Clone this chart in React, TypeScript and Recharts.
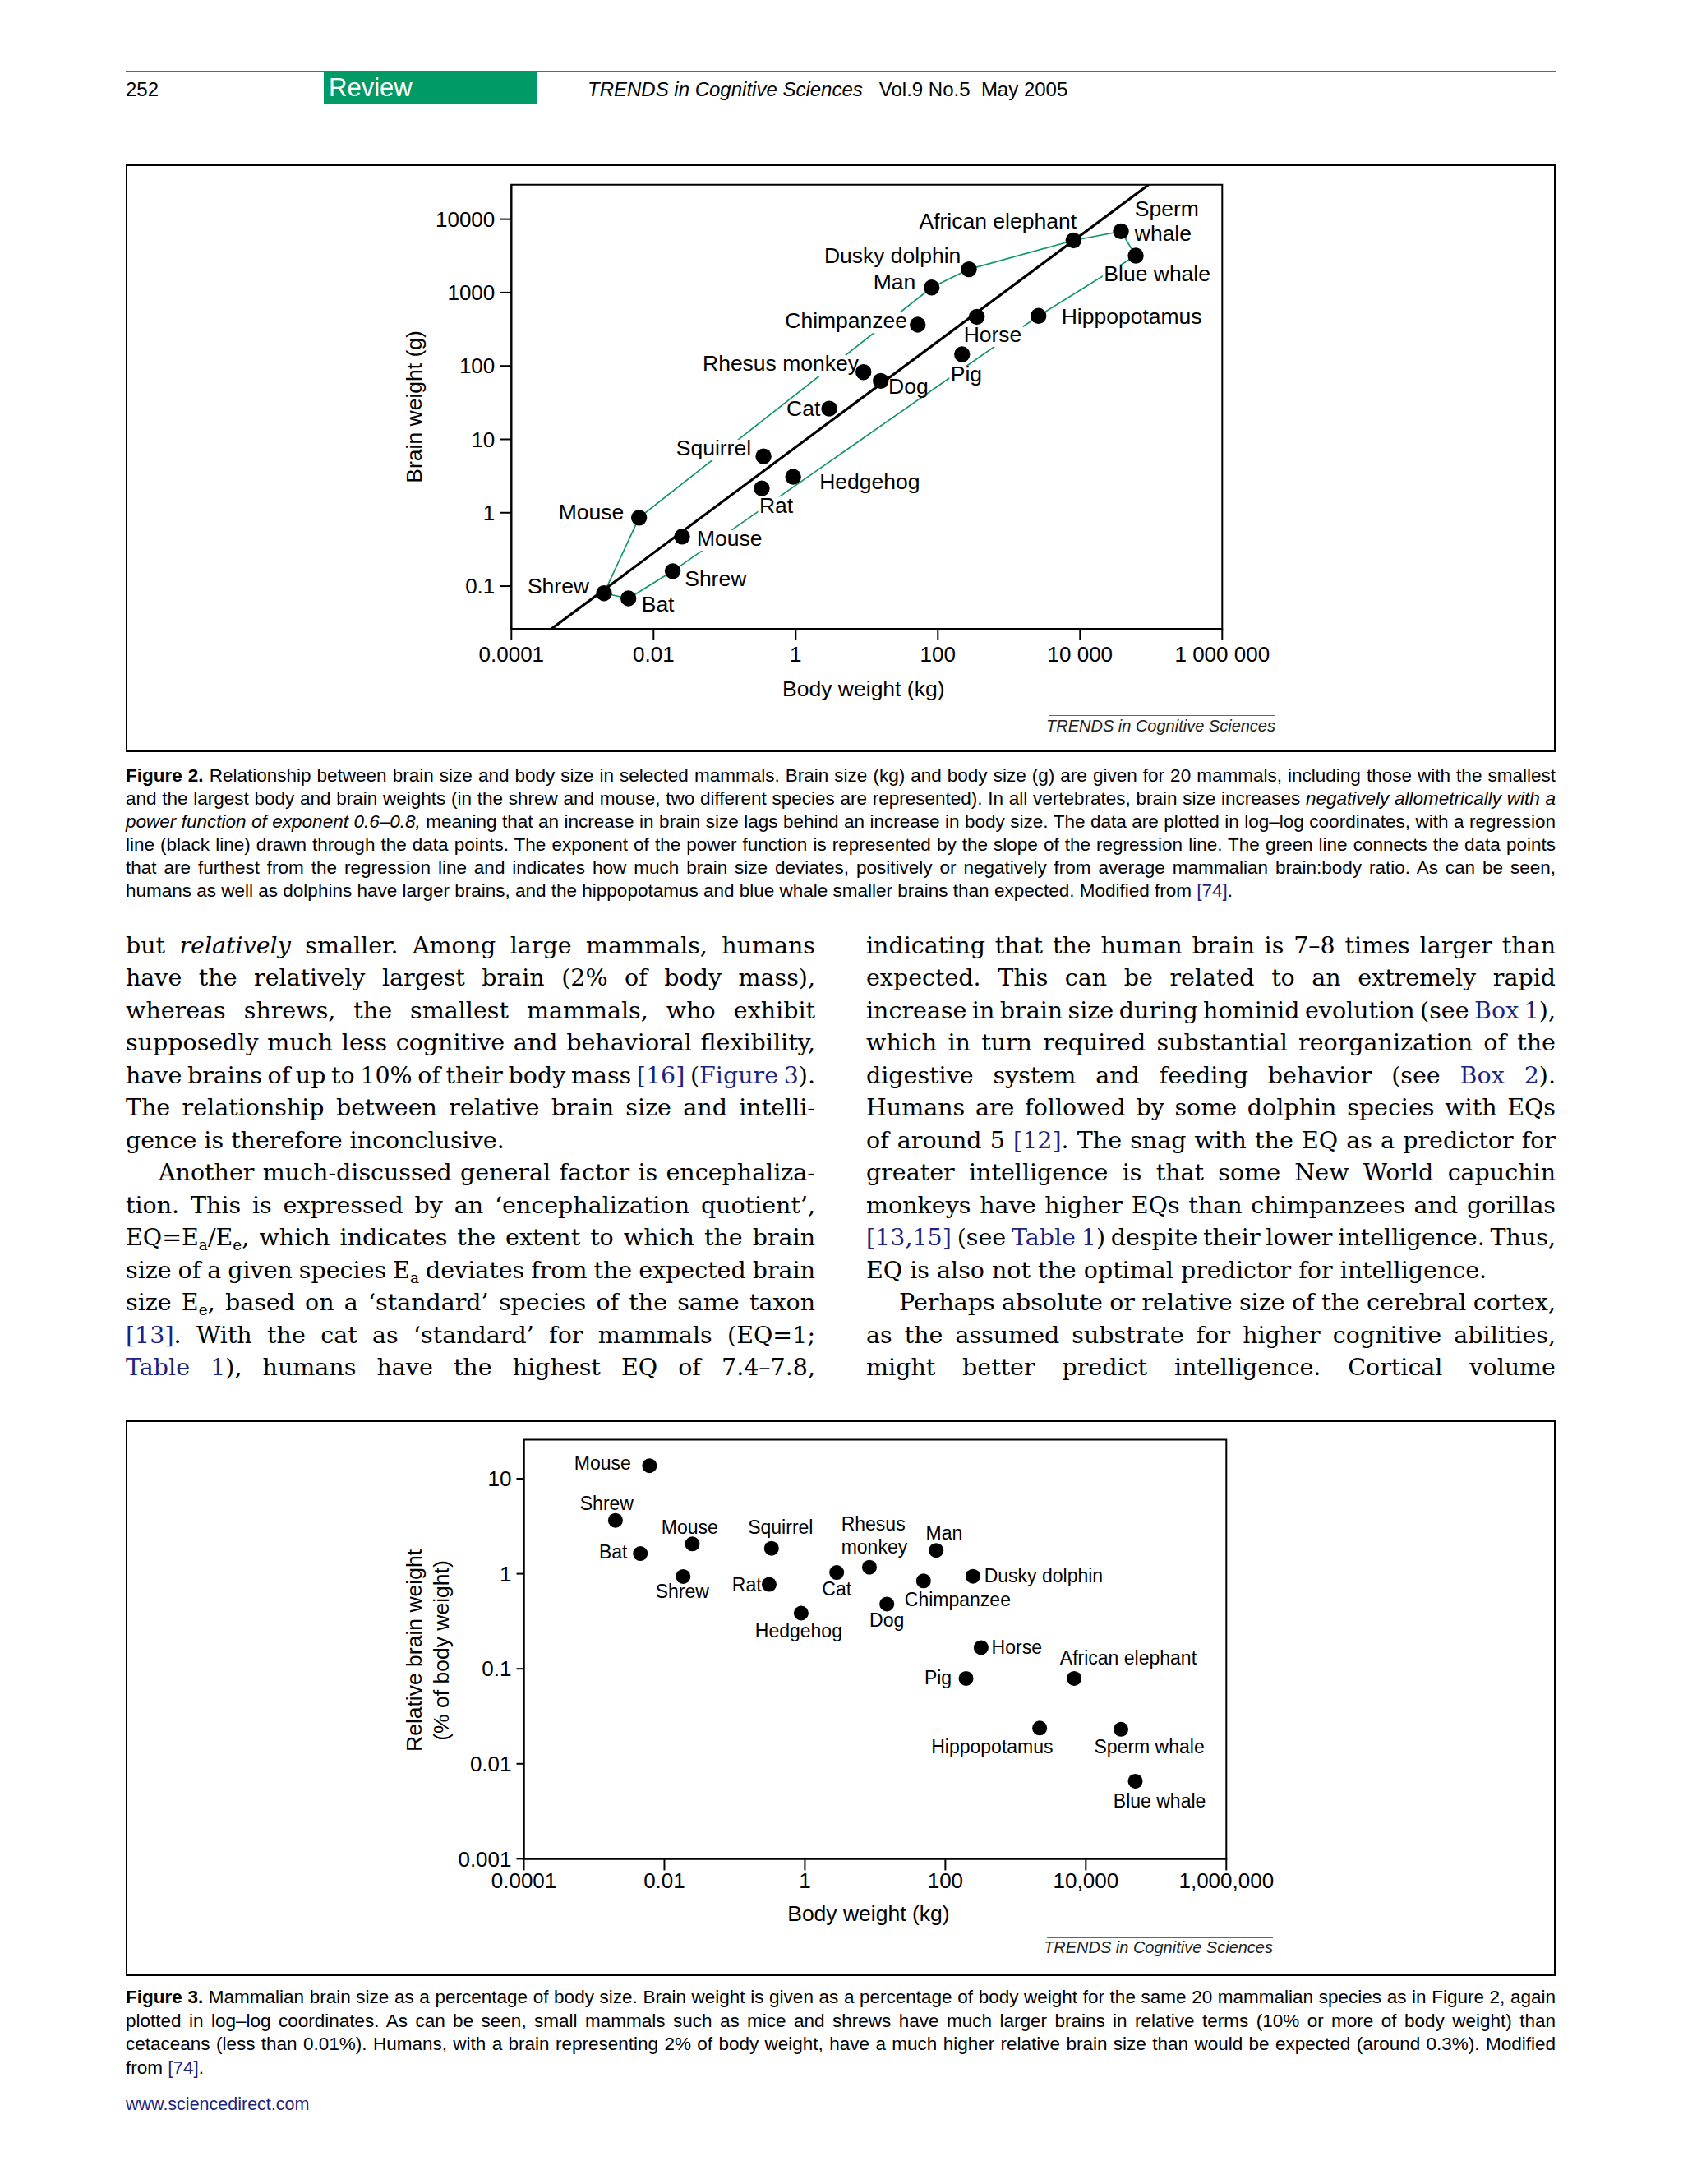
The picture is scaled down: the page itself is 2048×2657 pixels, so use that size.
import React from 'react';
import { ScatterChart, Scatter, XAxis, YAxis, ReferenceArea, Label } from 'recharts';

const SANS = '"Liberation Sans", Arial, Helvetica, sans-serif';
const SERIF = '"DejaVu Serif", serif';
const GREEN = '#12966c';
const HEADER_GREEN = '#009a66';
const LINK = '#1c2480';

// ---------------- Figure 2 data (brain weight vs body weight) ----------------
const speciesIds = ['shrewA', 'bat', 'shrewB', 'mouseB', 'mouseA', 'squirrel', 'rat', 'hedgehog', 'cat', 'rhesus', 'dog', 'chimp', 'man', 'dolphin', 'horse', 'pig', 'hippo', 'elephant', 'sperm', 'blue'];
const fig2Labels = ['Shrew', 'Bat', 'Shrew', 'Mouse', 'Mouse', 'Squirrel', 'Rat', 'Hedgehog', 'Cat', 'Rhesus monkey', 'Dog', 'Chimpanzee', 'Man', 'Dusky dolphin', 'Horse', 'Pig', 'Hippopotamus', 'African elephant', 'Sperm\nwhale', 'Blue whale'];
const fig2BodyKg = [0.00201, 0.00443, 0.0186, 0.0252, 0.00625, 0.352, 0.333, 0.92, 2.96, 8.97, 15.7, 52, 81.7, 273, 353, 219, 2600, 8090, 37600, 60700];
const fig2BrainG = [0.08, 0.068, 0.16, 0.473, 0.855, 5.87, 2.15, 3.09, 26.2, 82.4, 62.5, 365, 1170, 2075, 467, 144, 481, 5130, 6830, 3180];
const fig2HullOrder = ['shrewA', 'mouseA', 'man', 'dolphin', 'elephant', 'sperm', 'blue', 'hippo', 'shrewB', 'bat', 'shrewA'];
const fig2RegressionBody = [0.000366, 92000];
const fig2RegressionBrain = [0.0262, 29400];
const fig2XDomain = [1e-4, 1e6];
const fig2YDomain = [0.0262, 29400];
const fig2XTicks = [1e-4, 1e-2, 1, 100, 1e4, 1e6];
const fig2XTickLabels = ['0.0001', '0.01', '1', '100', '10 000', '1 000 000'];
const fig2YTicks = [0.1, 1, 10, 100, 1000, 10000];
const fig2YTickLabels = ['0.1', '1', '10', '100', '1000', '10000'];

// ---------------- Figure 3 data (relative brain weight vs body weight) ----------------
const fig3Labels = ['Shrew', 'Bat', 'Shrew', 'Mouse', 'Mouse', 'Squirrel', 'Rat', 'Hedgehog', 'Cat', 'Rhesus\nmonkey', 'Dog', 'Chimpanzee', 'Man', 'Dusky dolphin', 'Horse', 'Pig', 'Hippopotamus', 'African elephant', 'Sperm whale', 'Blue whale'];
const fig3BodyKg = [0.00201, 0.00455, 0.0185, 0.025, 0.00614, 0.335, 0.31, 0.885, 2.84, 8.3, 14.7, 48.9, 74, 247, 323, 197, 2200, 6820, 31600, 50600];
const fig3RelPct = [3.64, 1.63, 0.935, 2.06, 13.7, 1.85, 0.772, 0.385, 1.03, 1.17, 0.48, 0.84, 1.76, 0.94, 0.167, 0.0792, 0.0238, 0.0792, 0.0231, 0.00656];
const fig3XDomain = [1e-4, 1e6];
const fig3YDomain = [0.001, 25.8];
const fig3XTicks = [1e-4, 1e-2, 1, 100, 1e4, 1e6];
const fig3XTickLabels = ['0.0001', '0.01', '1', '100', '10,000', '1,000,000'];
const fig3YTicks = [0.001, 0.01, 0.1, 1, 10];
const fig3YTickLabels = ['0.001', '0.01', '0.1', '1', '10'];

// ---------------- text content ----------------
const fig2Caption = [
  '#Figure 2.# Relationship between brain size and body size in selected mammals. Brain size (kg) and body size (g) are given for 20 mammals, including those with the smallest',
  'and the largest body and brain weights (in the shrew and mouse, two different species are represented). In all vertebrates, brain size increases *negatively allometrically with a*',
  '*power function of exponent 0.6–0.8,* meaning that an increase in brain size lags behind an increase in body size. The data are plotted in log–log coordinates, with a regression',
  'line (black line) drawn through the data points. The exponent of the power function is represented by the slope of the regression line. The green line connects the data points',
  'that are furthest from the regression line and indicates how much brain size deviates, positively or negatively from average mammalian brain:body ratio. As can be seen,',
  'humans as well as dolphins have larger brains, and the hippopotamus and blue whale smaller brains than expected. Modified from {[74]}.|',
];
const fig3Caption = [
  '#Figure 3.# Mammalian brain size as a percentage of body size. Brain weight is given as a percentage of body weight for the same 20 mammalian species as in Figure 2, again',
  'plotted in log–log coordinates. As can be seen, small mammals such as mice and shrews have much larger brains in relative terms (10% or more of body weight) than',
  'cetaceans (less than 0.01%). Humans, with a brain representing 2% of body weight, have a much higher relative brain size than would be expected (around 0.3%). Modified',
  'from {[74]}.|',
];
const bodyLeft = [
  'but *relatively* smaller. Among large mammals, humans',
  'have the relatively largest brain (2% of body mass),',
  'whereas shrews, the smallest mammals, who exhibit',
  'supposedly much less cognitive and behavioral flexibility,',
  'have brains of up to 10% of their body mass {[16]} ({Figure 3}).',
  'The relationship between relative brain size and intelli-',
  'gence is therefore inconclusive.|',
  '>Another much-discussed general factor is encephaliza-',
  'tion. This is expressed by an ‘encephalization quotient’,',
  'EQ=E~a~/E~e~, which indicates the extent to which the brain',
  'size of a given species E~a~ deviates from the expected brain',
  'size E~e~, based on a ‘standard’ species of the same taxon',
  '{[13]}. With the cat as ‘standard’ for mammals (EQ=1;',
  '{Table 1}), humans have the highest EQ of 7.4–7.8,',
];
const bodyRight = [
  'indicating that the human brain is 7–8 times larger than',
  'expected. This can be related to an extremely rapid',
  'increase in brain size during hominid evolution (see {Box 1}),',
  'which in turn required substantial reorganization of the',
  'digestive system and feeding behavior (see {Box 2}).',
  'Humans are followed by some dolphin species with EQs',
  'of around 5 {[12]}. The snag with the EQ as a predictor for',
  'greater intelligence is that some New World capuchin',
  'monkeys have higher EQs than chimpanzees and gorillas',
  '{[13,15]} (see {Table 1}) despite their lower intelligence. Thus,',
  'EQ is also not the optimal predictor for intelligence.|',
  '>Perhaps absolute or relative size of the cerebral cortex,',
  'as the assumed substrate for higher cognitive abilities,',
  'might better predict intelligence. Cortical volume',
];

// ---------------- label placement (layout only) ----------------
type Place = { anchor: 'start' | 'end' | 'middle'; dx: number; dy: number; knock?: boolean };
const fig2Place: Record<string, Place> = {
  shrewA: { anchor: 'end', dx: -18, dy: 0 },
  bat: { anchor: 'start', dx: 16, dy: 15.5 },
  shrewB: { anchor: 'start', dx: 14.6, dy: 18 },
  mouseB: { anchor: 'start', dx: 18, dy: 11.5 },
  mouseA: { anchor: 'end', dx: -18.4, dy: 2 },
  squirrel: { anchor: 'end', dx: -15, dy: -1 },
  rat: { anchor: 'start', dx: -3, dy: 29.6 },
  hedgehog: { anchor: 'start', dx: 32, dy: 14.8 },
  cat: { anchor: 'end', dx: -10.7, dy: 9, knock: false },
  rhesus: { anchor: 'end', dx: -5.7, dy: -1.5 },
  dog: { anchor: 'start', dx: 9.3, dy: 16, knock: false },
  chimp: { anchor: 'end', dx: -12.7, dy: 4.4 },
  man: { anchor: 'end', dx: -19.4, dy: 2 },
  dolphin: { anchor: 'end', dx: -9.7, dy: -7.7 },
  horse: { anchor: 'start', dx: -16, dy: 30.6 },
  pig: { anchor: 'start', dx: -14, dy: 33.3 },
  hippo: { anchor: 'start', dx: 28, dy: 9.6 },
  elephant: { anchor: 'end', dx: 3.7, dy: -14.1 },
  sperm: { anchor: 'start', dx: 16.7, dy: -18.9 },
  blue: { anchor: 'start', dx: -38.7, dy: 31.4 },
};
const fig3Place: Record<string, Place> = {
  mouseA: { anchor: 'end', dx: -22.5, dy: 5.3 },
  shrewA: { anchor: 'middle', dx: -10.5, dy: -13.2 },
  bat: { anchor: 'end', dx: -15.7, dy: 6.4 },
  mouseB: { anchor: 'middle', dx: -3.2, dy: -12.5 },
  shrewB: { anchor: 'middle', dx: -1, dy: 25.7 },
  squirrel: { anchor: 'middle', dx: 11, dy: -17.9 },
  rat: { anchor: 'end', dx: -9.3, dy: 8.9 },
  hedgehog: { anchor: 'middle', dx: -3, dy: 29.3 },
  cat: { anchor: 'middle', dx: 0, dy: 28.1 },
  rhesus: { anchor: 'start', dx: -34.3, dy: -44.3 },
  dog: { anchor: 'middle', dx: 0, dy: 27.2 },
  chimp: { anchor: 'start', dx: -23, dy: 30.7 },
  man: { anchor: 'start', dx: -12.6, dy: -13.2 },
  dolphin: { anchor: 'start', dx: 13.7, dy: 7.5 },
  horse: { anchor: 'start', dx: 12.7, dy: 7.1 },
  pig: { anchor: 'end', dx: -17.4, dy: 7.1 },
  elephant: { anchor: 'start', dx: -17.3, dy: -17.2 },
  hippo: { anchor: 'end', dx: 16.4, dy: 30.8 },
  sperm: { anchor: 'start', dx: -32.6, dy: 29.3 },
  blue: { anchor: 'start', dx: -26.7, dy: 32.1 },
};

// ---------------- helpers ----------------
let ctx: CanvasRenderingContext2D | null = null;
function measure(text: string, font: string): number {
  if (!ctx && typeof document !== 'undefined') ctx = document.createElement('canvas').getContext('2d');
  if (!ctx) return text.length * 10;
  ctx.font = font;
  return ctx.measureText(text).width;
}

type Seg = { t: string; i?: boolean; b?: boolean; link?: boolean; sub?: boolean };
function parse(s: string): Seg[] {
  const out: Seg[] = [];
  const re = /(\*[^*]+\*|#[^#]+#|\{[^}]+\}|~[^~]+~)/g;
  let last = 0;
  let m: RegExpExecArray | null;
  while ((m = re.exec(s))) {
    if (m.index > last) out.push({ t: s.slice(last, m.index) });
    const tok = m[0];
    const inner = tok.slice(1, -1);
    if (tok[0] === '*') out.push({ t: inner, i: true });
    else if (tok[0] === '#') out.push({ t: inner, b: true });
    else if (tok[0] === '{') out.push({ t: inner, link: true });
    else out.push({ t: inner, sub: true });
    last = m.index + tok.length;
  }
  if (last < s.length) out.push({ t: s.slice(last) });
  return out;
}

function JustLine({ raw, x, baseline, width, size, family, indent = 0 }: { raw: string; x: number; baseline: number; width: number; size: number; family: string; indent?: number }) {
  let text = raw;
  let last = false;
  let ind = 0;
  if (text.endsWith('|')) { last = true; text = text.slice(0, -1); }
  if (text.startsWith('>')) { ind = indent; text = text.slice(1); }
  const segs = parse(text);
  const fontOf = (s: Seg) => `${s.i ? 'italic ' : ''}${s.b ? 'bold ' : ''}${s.sub ? size * 0.65 : size}px ${family}`;
  const natural = segs.reduce((a, s) => a + measure(s.t, fontOf(s)), 0);
  const avail = width - ind;
  const spaces = (text.match(/ /g) || []).length;
  let wordSpacing = 0;
  if (natural > avail - 2 && spaces > 0) wordSpacing = (avail - 2 - natural) / spaces;
  return (
    <div
      style={{
        position: 'absolute', left: x, top: baseline - 0.846 * size, width, height: size,
        lineHeight: `${size}px`, fontSize: size, fontFamily: family, whiteSpace: 'nowrap',
        textAlign: last ? 'left' : 'justify', textAlignLast: last ? 'left' : 'justify',
        textIndent: ind, wordSpacing, color: '#000',
      }}
    >
      {segs.map((s, k) => {
        if (s.sub) return <span key={k} style={{ fontSize: size * 0.65, position: 'relative', top: size * 0.22 }}>{s.t}</span>;
        return (
          <span key={k} style={{ fontStyle: s.i ? 'italic' : 'normal', fontWeight: s.b ? 'bold' : 'normal', color: s.link ? LINK : '#000' }}>{s.t}</span>
        );
      })}
    </div>
  );
}

function makeLabelShape(place: Record<string, Place>, fontSize: number, lineGap: number, knockout: boolean) {
  return (props: any) => {
    const { cx, cy, payload } = props;
    const p = place[payload.id];
    if (!p || cx == null || cy == null) return <g />;
    const lines = String(payload.label).split('\n');
    const x = cx + p.dx;
    const font = `${fontSize}px ${SANS}`;
    return (
      <g>
        {knockout && p.knock !== false && lines.map((ln, i) => {
          const w = measure(ln, font);
          const bx = p.anchor === 'end' ? x - w : p.anchor === 'middle' ? x - w / 2 : x;
          const by = cy + p.dy + i * lineGap;
          return <rect key={'r' + i} x={bx - 1.5} y={by - 0.73 * fontSize} width={w + 3} height={0.95 * fontSize} fill="#fff" />;
        })}
        {lines.map((ln, i) => (
          <text key={i} x={x} y={cy + p.dy + i * lineGap} textAnchor={p.anchor} fontSize={fontSize} fontFamily={SANS} fill="#000">{ln}</text>
        ))}
      </g>
    );
  };
}

const emptyShape = () => <g />;

// ---------------- Figure 2 chart ----------------
function Figure2Chart() {
  const points = speciesIds.map((id, i) => ({ id, label: fig2Labels[i], x: fig2BodyKg[i], y: fig2BrainG[i] }));
  const hull = fig2HullOrder.map((id) => { const p = points.find((q) => q.id === id)!; return { x: p.x, y: p.y }; });
  const regression = fig2RegressionBody.map((b, i) => ({ x: b, y: fig2RegressionBrain[i] }));
  const axisStyle = { stroke: '#000', strokeWidth: 2 };
  const tickStyle = { fontSize: 26, fill: '#000', fontFamily: SANS };
  return (
    <ScatterChart width={2048} height={930} margin={{ top: 224.8, right: 560.7, bottom: 0, left: 0 }}>
      <XAxis type="number" dataKey="x" scale="log" domain={fig2XDomain} allowDataOverflow ticks={fig2XTicks} interval={0}
        tickFormatter={(v: number) => fig2XTickLabels[fig2XTicks.indexOf(v)] ?? ''} height={165} tickSize={14} tickMargin={7.5}
        axisLine={axisStyle} tickLine={axisStyle} tick={tickStyle}>
        <Label content={(props: any) => {
          const vb = props.viewBox || { x: 622.3, y: 765, width: 865, height: 165 };
          return <text x={vb.x + vb.width / 2 - 4} y={vb.y + 82} textAnchor="middle" fontSize={26.5} fontFamily={SANS} fill="#000">Body weight (kg)</text>;
        }} />
      </XAxis>
      <YAxis type="number" dataKey="y" scale="log" domain={fig2YDomain} allowDataOverflow ticks={fig2YTicks} interval={0}
        tickFormatter={(v: number) => fig2YTickLabels[fig2YTicks.indexOf(v)] ?? ''} width={622.3} tickSize={14} tickMargin={6}
        axisLine={axisStyle} tickLine={axisStyle} tick={tickStyle}>
        <Label content={(props: any) => {
          const vb = props.viewBox || { x: 0, y: 224.8, width: 622.3, height: 540.2 };
          const x = vb.x + vb.width - 108.8;
          const y = vb.y + vb.height / 2;
          return <text x={x} y={y} transform={`rotate(-90 ${x} ${y})`} textAnchor="middle" fontSize={26.5} fontFamily={SANS} fill="#000">Brain weight (g)</text>;
        }} />
      </YAxis>
      <Scatter data={hull} line={{ stroke: GREEN, strokeWidth: 1.7 }} shape={emptyShape} isAnimationActive={false} />
      <Scatter data={points} shape={makeLabelShape(fig2Place, 26.5, 30.7, true)} isAnimationActive={false} />
      <Scatter data={regression} line={{ stroke: '#000', strokeWidth: 3.2 }} shape={emptyShape} isAnimationActive={false} />
      <Scatter data={points} shape={(p: any) => <circle cx={p.cx} cy={p.cy} r={9.7} fill="#000" />} isAnimationActive={false} />
      <ReferenceArea x1={fig2XDomain[0]} x2={fig2XDomain[1]} y1={fig2YDomain[0]} y2={fig2YDomain[1]} fill="none" fillOpacity={0} stroke="#000" strokeWidth={2} />
    </ScatterChart>
  );
}

// ---------------- Figure 3 chart ----------------
function Figure3Chart() {
  const points = speciesIds.map((id, i) => ({ id, label: fig3Labels[i], x: fig3BodyKg[i], y: fig3RelPct[i] }));
  const axisStyle = { stroke: '#000', strokeWidth: 2 };
  const tickStyle = { fontSize: 26, fill: '#000', fontFamily: SANS };
  return (
    <ScatterChart width={2048} height={700} margin={{ top: 51.4, right: 555.7, bottom: 0, left: 0 }}>
      <XAxis type="number" dataKey="x" scale="log" domain={fig3XDomain} allowDataOverflow ticks={fig3XTicks} interval={0}
        tickFormatter={(v: number) => fig3XTickLabels[fig3XTicks.indexOf(v)] ?? ''} height={138.6} tickSize={14} tickMargin={3}
        axisLine={axisStyle} tickLine={axisStyle} tick={tickStyle}>
        <Label content={(props: any) => {
          const vb = props.viewBox || { x: 637.5, y: 561.4, width: 854.8, height: 138.6 };
          return <text x={vb.x + vb.width / 2 - 8} y={vb.y + 75.6} textAnchor="middle" fontSize={26.5} fontFamily={SANS} fill="#000">Body weight (kg)</text>;
        }} />
      </XAxis>
      <YAxis type="number" dataKey="y" scale="log" domain={fig3YDomain} allowDataOverflow ticks={fig3YTicks} interval={0}
        tickFormatter={(v: number) => fig3YTickLabels[fig3YTicks.indexOf(v)] ?? ''} width={637.5} tickSize={9} tickMargin={6}
        axisLine={axisStyle} tickLine={axisStyle} tick={tickStyle}>
        <Label content={(props: any) => {
          const vb = props.viewBox || { x: 0, y: 51.4, width: 637.5, height: 510 };
          const x1 = vb.x + vb.width - 124.5;
          const x2 = vb.x + vb.width - 91.5;
          const y = vb.y + vb.height / 2 + 1.6;
          return (
            <g>
              <text x={x1} y={y} transform={`rotate(-90 ${x1} ${y})`} textAnchor="middle" fontSize={26.5} fontFamily={SANS} fill="#000">Relative brain weight</text>
              <text x={x2} y={y} transform={`rotate(-90 ${x2} ${y})`} textAnchor="middle" fontSize={26.5} fontFamily={SANS} fill="#000">(% of body weight)</text>
            </g>
          );
        }} />
      </YAxis>
      <Scatter data={points} shape={makeLabelShape(fig3Place, 23, 27.5, false)} isAnimationActive={false} />
      <Scatter data={points} shape={(p: any) => <circle cx={p.cx} cy={p.cy} r={9} fill="#000" />} isAnimationActive={false} />
      <ReferenceArea x1={fig3XDomain[0]} x2={fig3XDomain[1]} y1={fig3YDomain[0]} y2={fig3YDomain[1]} fill="none" fillOpacity={0} stroke="#000" strokeWidth={2} />
    </ScatterChart>
  );
}

function TextAt({ x, baseline, size, children, style }: { x: number; baseline: number; size: number; children: React.ReactNode; style?: React.CSSProperties }) {
  return (
    <div style={{ position: 'absolute', left: x, top: baseline - 0.846 * size, lineHeight: `${size}px`, fontSize: size, fontFamily: SANS, whiteSpace: 'nowrap', ...style }}>{children}</div>
  );
}

function Credit({ right, lineY, baseline }: { right: number; lineY: number; baseline: number }) {
  return (
    <>
      <div style={{ position: 'absolute', left: right - 275, top: lineY, width: 275, height: 1, background: '#666' }} />
      <div style={{ position: 'absolute', left: right - 400, width: 400, top: baseline - 0.846 * 20, lineHeight: '20px', fontSize: 20, fontFamily: SANS, fontStyle: 'italic', textAlign: 'right', color: '#222', whiteSpace: 'nowrap' }}>TRENDS in Cognitive Sciences</div>
    </>
  );
}

export default function App() {
  return (
    <div style={{ position: 'absolute', left: 0, top: 0, width: 2048, height: 2657, background: '#fff', overflow: 'hidden' }}>
      {/* header */}
      <div style={{ position: 'absolute', left: 153, top: 86, width: 1740, height: 2, background: HEADER_GREEN }} />
      <TextAt x={153} baseline={117} size={24}>252</TextAt>
      <div style={{ position: 'absolute', left: 394, top: 88, width: 259, height: 39, background: HEADER_GREEN }} />
      <TextAt x={400} baseline={117} size={31} style={{ color: '#fff' }}>Review</TextAt>
      <TextAt x={715} baseline={117} size={24}>
        <span style={{ fontStyle: 'italic' }}>TRENDS in Cognitive Sciences</span>
        <span style={{ whiteSpace: 'pre' }}>   Vol.9 No.5  May 2005</span>
      </TextAt>

      {/* figure 2 */}
      <div style={{ position: 'absolute', left: 153, top: 200, width: 1740, height: 715, border: '2px solid #000', boxSizing: 'border-box' }} />
      <div style={{ position: 'absolute', left: 0, top: 0 }}>
        <Figure2Chart />
      </div>
      <Credit right={1552} lineY={870} baseline={890} />
      {fig2Caption.map((ln, i) => (
        <JustLine key={'c2' + i} raw={ln} x={153} baseline={951.7 + 28 * i} width={1740} size={22.5} family={SANS} />
      ))}

      {/* body text */}
      {bodyLeft.map((ln, i) => (
        <JustLine key={'bl' + i} raw={ln} x={153} baseline={1160.7 + 39.5 * i} width={839} size={28.5} family={SERIF} indent={40} />
      ))}
      {bodyRight.map((ln, i) => (
        <JustLine key={'br' + i} raw={ln} x={1054} baseline={1160.7 + 39.5 * i} width={839} size={28.5} family={SERIF} indent={40} />
      ))}

      {/* figure 3 */}
      <div style={{ position: 'absolute', left: 153, top: 1728, width: 1740, height: 676, border: '2px solid #000', boxSizing: 'border-box' }} />
      <div style={{ position: 'absolute', left: 0, top: 1700 }}>
        <Figure3Chart />
      </div>
      <Credit right={1549} lineY={2356.5} baseline={2375.6} />
      {fig3Caption.map((ln, i) => (
        <JustLine key={'c3' + i} raw={ln} x={153} baseline={2438.5 + 28.5 * i} width={1740} size={22.5} family={SANS} />
      ))}

      {/* footer */}
      <TextAt x={153} baseline={2567.7} size={21.5} style={{ color: LINK }}>www.sciencedirect.com</TextAt>
    </div>
  );
}
